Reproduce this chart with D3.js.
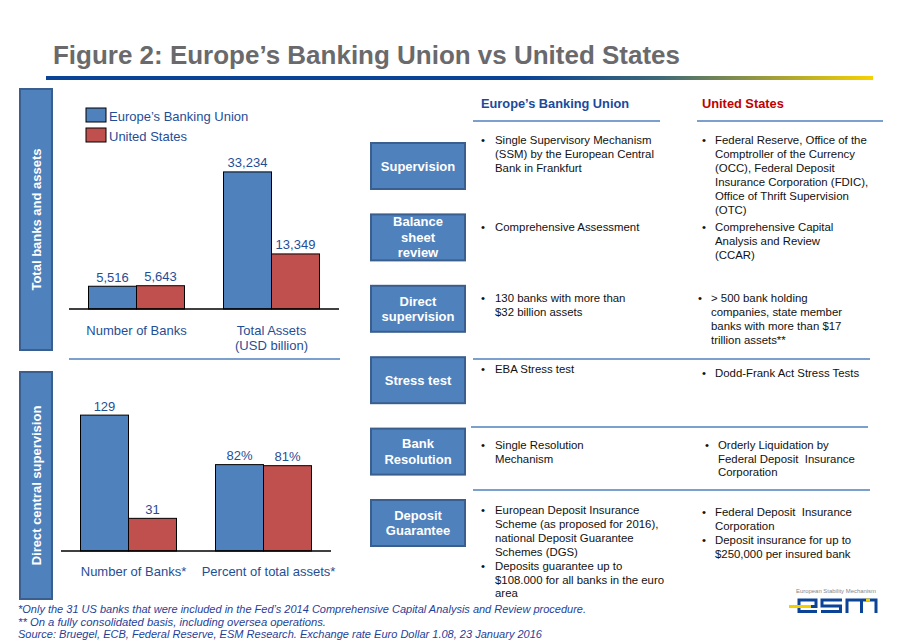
<!DOCTYPE html>
<html><head><meta charset="utf-8">
<script src="https://cdn.jsdelivr.net/npm/d3@7"></script>
<style>body{margin:0;background:#fff;} svg{display:block;font-family:"Liberation Sans",Arial,sans-serif;}</style>
</head><body><svg id="c" width="909" height="643"></svg>
<script>
// ---------- data ----------
const titleText = "Figure 2: Europe’s Banking Union vs United States";
const seriesNames = ["Europe’s Banking Union", "United States"];
const topCategories = ["Number of Banks", "Total Assets|(USD billion)"];
const topEU = [5516, 33234];
const topUS = [5643, 13349];
const bottomCategories = ["Number of Banks*", "Percent of total assets*"];
const bottomEU = [129, 82];
const bottomUS = [31, 81];
const bottomUnits = ["", "%"];
const sideLabels = ["Total banks and assets", "Direct central supervision"];
const rowLabels = [["Supervision"], ["Balance", "sheet", "review"], ["Direct", "supervision"], ["Stress test"], ["Bank", "Resolution"], ["Deposit", "Guarantee"]];
const euText = [
  [["Single Supervisory Mechanism", "(SSM) by the European Central", "Bank in Frankfurt"]],
  [["Comprehensive Assessment"]],
  [["130 banks with more than", "$32 billion assets"]],
  [["EBA Stress test"]],
  [["Single Resolution", "Mechanism"]],
  [["European Deposit Insurance", "Scheme (as proposed for 2016),", "national Deposit Guarantee", "Schemes (DGS)"], ["Deposits guarantee up to", "$108.000 for all banks in the euro", "area"]]
];
const usText = [
  [["Federal Reserve, Office of the", "Comptroller of the Currency", "(OCC), Federal Deposit", "Insurance Corporation (FDIC),", "Office of Thrift Supervision", "(OTC)"]],
  [["Comprehensive Capital", "Analysis and Review", "(CCAR)"]],
  [["> 500 bank holding", "companies, state member", "banks with more than $17", "trillion assets**"]],
  [["Dodd-Frank Act Stress Tests"]],
  [["Orderly Liquidation by", "Federal Deposit  Insurance", "Corporation"]],
  [["Federal Deposit  Insurance", "Corporation"], ["Deposit insurance for up to", "$250,000 per insured bank"]]
];
const footnotes = [
  "*Only the 31 US banks that were included in the Fed’s 2014 Comprehensive Capital Analysis and Review procedure.",
  "** On a fully consolidated basis, including oversea operations.",
  "Source: Bruegel, ECB, Federal Reserve, ESM Research. Exchange rate Euro Dollar 1.08, 23 January 2016"
];

// ---------- style / layout ----------
const BLUE = "#4f81bd", RED = "#c0504d", BOXSTROKE = "#3a5f8f", LBLUE = "#1f4e96";
const svg = d3.select("#c");
svg.append("rect").attr("width", 909).attr("height", 643).attr("fill", "#fff");

// title
svg.append("text").attr("x", 53).attr("y", 64)
  .attr("font-family", "'Liberation Sans Narrow','Arial Narrow','Liberation Sans',Arial,sans-serif")
  .attr("font-weight", "bold").attr("font-size", 26).attr("fill", "#6a6a6d")
  .attr("textLength", 627).attr("lengthAdjust", "spacingAndGlyphs").text(titleText);

const defs = svg.append("defs");
const lg = defs.append("linearGradient").attr("id", "tg").attr("x1", "0").attr("x2", "1").attr("y1", "0").attr("y2", "0");
[[0, "#0b4497"], [0.58, "#0b4497"], [0.74, "#3c6878"], [0.87, "#9a9b3c"], [1, "#f7d200"]]
  .forEach(([o, c]) => lg.append("stop").attr("offset", o).attr("stop-color", c));
svg.append("rect").attr("x", 46).attr("y", 76).attr("width", 827).attr("height", 4).attr("fill", "url(#tg)");

// side panels
const sidePanels = [[89, 350], [372, 599]];
sidePanels.forEach(([y0, y1], i) => {
  svg.append("rect").attr("x", 20).attr("y", y0).attr("width", 32).attr("height", y1 - y0)
    .attr("fill", BLUE).attr("stroke", BOXSTROKE).attr("stroke-width", 2);
  const cy = (y0 + y1) / 2;
  svg.append("text").attr("transform", `translate(40.5,${cy}) rotate(-90)`)
    .attr("text-anchor", "middle").attr("font-weight", "bold").attr("font-size", 13)
    .attr("fill", "#fff").text(sideLabels[i]);
});

// legend
seriesNames.forEach((s, i) => {
  svg.append("rect").attr("x", 86).attr("y", 108 + i * 20).attr("width", 20).attr("height", 14)
    .attr("fill", i ? RED : BLUE).attr("stroke", "#000").attr("stroke-width", 1);
  svg.append("text").attr("x", 109).attr("y", 120.5 + i * 20).attr("font-size", 13)
    .attr("fill", LBLUE).text(s);
});

function barChart(cats, eu, us, units, xr, baseY, y, labelY, fmt) {
  const x0 = d3.scaleBand().domain(cats).range(xr).paddingInner(0.289).paddingOuter(0.1445);
  const x1 = d3.scaleBand().domain(seriesNames).range([0, x0.bandwidth()]);
  const g = svg.append("g");
  cats.forEach((c, ci) => {
    [eu[ci], us[ci]].forEach((v, si) => {
      const bx = x0(c) + x1(seriesNames[si]);
      g.append("rect").attr("x", bx).attr("y", y(v)).attr("width", x1.bandwidth())
        .attr("height", y(0) - y(v)).attr("fill", si ? RED : BLUE).attr("stroke", "#000").attr("stroke-width", 1);
      g.append("text").attr("x", bx + x1.bandwidth() / 2).attr("y", y(v) - 4.5)
        .attr("text-anchor", "middle").attr("font-size", 13).attr("fill", LBLUE)
        .text(fmt(v) + (units ? units[ci] : ""));
    });
    c.split("|").forEach((line, li) => {
      g.append("text").attr("x", x0(c) + x0.bandwidth() / 2 + (units ? 5 : 0)).attr("y", labelY + li * 15)
        .attr("text-anchor", "middle").attr("font-size", 13).attr("fill", LBLUE).text(line);
    });
  });
  g.append("line").attr("x1", xr[0]).attr("x2", xr[1]).attr("y1", baseY).attr("y2", baseY)
    .attr("stroke", "#000").attr("stroke-width", 1.5);
}
const yTop = d3.scaleLinear().domain([0, 40000]).range([309, 144]);
barChart(topCategories, topEU, topUS, null, [69, 339], 309, yTop, 335, d3.format(","));
svg.append("line").attr("x1", 69).attr("x2", 340).attr("y1", 359).attr("y2", 359)
  .attr("stroke", BLUE).attr("stroke-width", 1.5);
const yBot = d3.scaleLinear().domain([0, 150]).range([551, 393]);
barChart(bottomCategories, bottomEU, bottomUS, bottomUnits, [61, 331], 551, yBot, 576, d3.format("d"));

// table headers
svg.append("text").attr("x", 481).attr("y", 108).attr("font-weight", "bold").attr("font-size", 12.8)
  .attr("fill", "#1a4a9c").text(seriesNames[0]);
svg.append("text").attr("x", 702).attr("y", 108).attr("font-weight", "bold").attr("font-size", 12.8)
  .attr("fill", "#c00000").text(seriesNames[1]);
[[473, 660, 121], [697, 883, 121], [473, 870, 359], [471, 868, 427], [473, 870, 490]].forEach(([a, b, yy]) =>
  svg.append("line").attr("x1", a).attr("x2", b).attr("y1", yy).attr("y2", yy).attr("stroke", BLUE).attr("stroke-width", 1.3));

// rows
const rowY = d3.scaleLinear().domain([0, 5]).range([143, 500]);
const euOff = [-3, 13, 12, 12, 16, 10];
const usOff = [-3, 13, 12, 16, 16, 12];
const usDx = [0, 0, -4, 0, 3, 0];
const LH = 13.9;
rowLabels.forEach((lab, r) => {
  const top = rowY(r);
  svg.append("rect").attr("x", 371).attr("y", top).attr("width", 94).attr("height", 46)
    .attr("fill", BLUE).attr("stroke", BOXSTROKE).attr("stroke-width", 2);
  const n = lab.length, lh = 15.5;
  lab.forEach((l, i) => {
    svg.append("text").attr("x", 418).attr("y", top + 23 + (i - (n - 1) / 2) * lh + 4.5)
      .attr("text-anchor", "middle").attr("font-weight", "bold").attr("font-size", 13)
      .attr("fill", "#fff").text(l);
  });
  const drawCol = (bullets, bx, tx, y0) => {
    let k = 0;
    bullets.forEach(lines => {
      svg.append("text").attr("x", bx).attr("y", y0 + k * LH).attr("font-size", 11.4).attr("fill", "#111").text("•");
      lines.forEach(line => {
        svg.append("text").attr("x", tx).attr("y", y0 + k * LH).attr("font-size", 11.4)
          .attr("fill", "#111").attr("xml:space", "preserve").style("white-space", "pre").text(line);
        k++;
      });
    });
  };
  drawCol(euText[r], 481, 495, top + euOff[r] + 4);
  drawCol(usText[r], 702 + usDx[r], 715 + usDx[r], top + usOff[r] + 4);
});

// footnotes
const fnLen = [568, 308, 524];
footnotes.forEach((f, i) => {
  svg.append("text").attr("x", 18).attr("y", 613 + i * 12.5)
    .attr("font-family", "'Liberation Sans Narrow','Arial Narrow','Liberation Sans',Arial,sans-serif")
    .attr("font-style", "italic").attr("font-size", 11.5).attr("fill", "#1f3f9a")
    .attr("textLength", fnLen[i]).attr("lengthAdjust", "spacingAndGlyphs").text(f);
});

// logo
const logo = svg.append("g");
logo.append("text").attr("x", 796).attr("y", 593).attr("font-size", 6).attr("fill", "#888")
  .attr("textLength", 80).attr("lengthAdjust", "spacingAndGlyphs").text("European Stability Mechanism");
const LB = "#0b4497";
["M798,606.5 H816 V600 H799 V611.5 H817", "M842,600 H822 V606 H840.5 V611.5 H821", "M847,613 V600 H876 V613 M861.5,600 V613"]
  .forEach(d => logo.append("path").attr("d", d).attr("fill", "none").attr("stroke", LB).attr("stroke-width", 3));
logo.append("rect").attr("x", 789).attr("y", 605).attr("width", 22).attr("height", 3).attr("fill", "#f2d000");
logo.append("rect").attr("x", 866).attr("y", 598.5).attr("width", 4).attr("height", 3).attr("fill", "#f2d000");
</script></body></html>
